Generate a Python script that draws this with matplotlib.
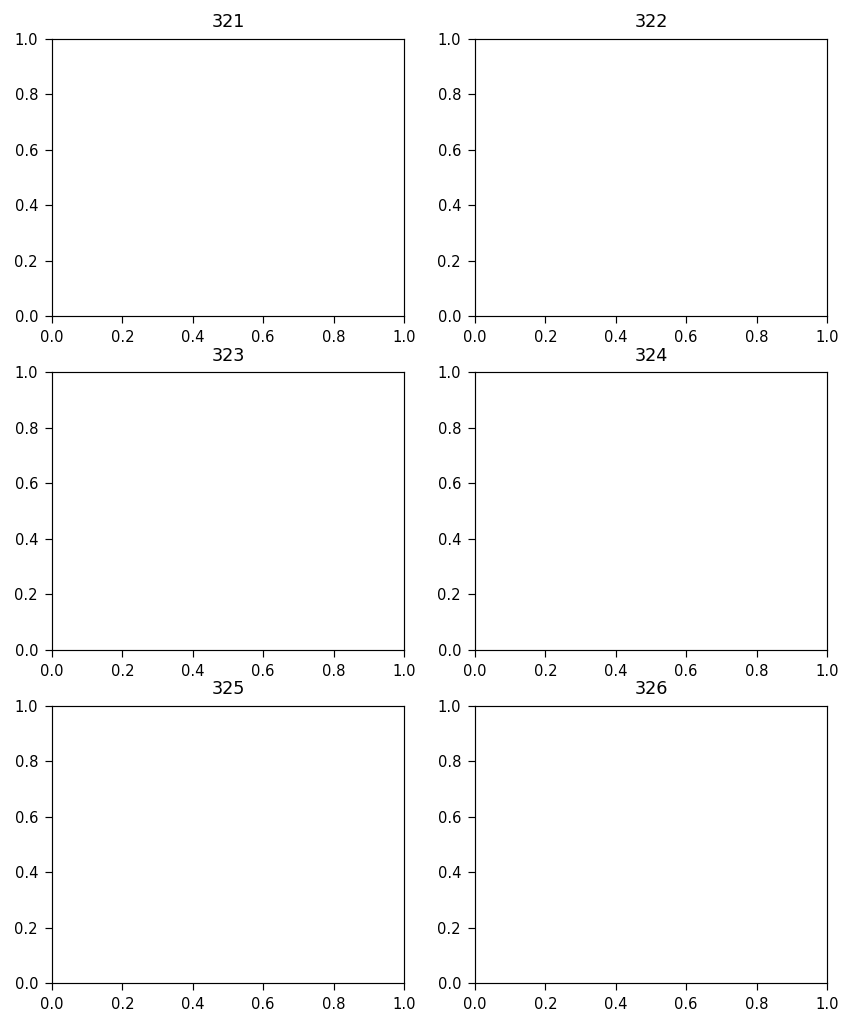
import matplotlib
matplotlib.use('Agg')
import matplotlib.pyplot as plt

# subplot codes used as titles
codes = [321, 322, 323, 324, 325, 326]

fig = plt.figure(figsize=(851/106, 1024/106), dpi=106)
for code in codes:
    ax = fig.add_subplot(code)
    ax.set_title(str(code), pad=8)
    ax.tick_params(length=4.5, pad=5)

plt.subplots_adjust(left=52/851, right=827/851, top=1-39/1024, bottom=1-983/1024,
                    wspace=0.2017, hspace=0.202)
plt.savefig('out.png', dpi=106)
